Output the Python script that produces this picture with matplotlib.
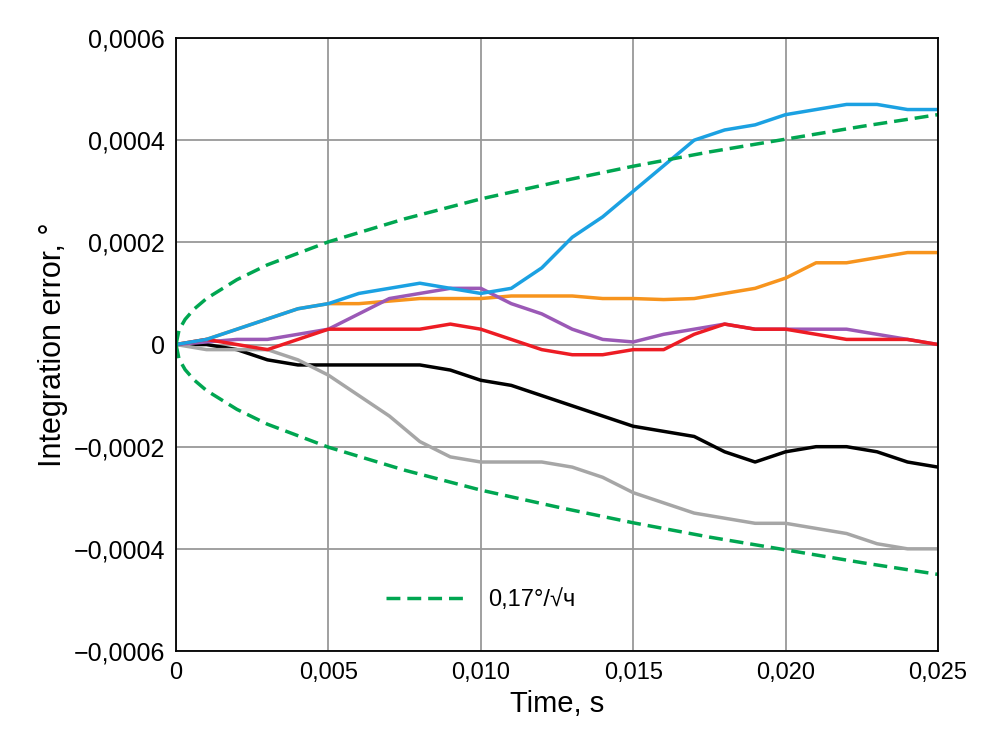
import matplotlib.pyplot as plt
from matplotlib.ticker import FuncFormatter

plt.rcParams["font.family"] = "Liberation Sans"

t = [i * 0.001 for i in range(26)]
blue = [0, 0.00001, 0.00003, 0.00005, 0.00007, 0.00008, 0.0001, 0.00011, 0.00012, 0.00011,
        0.0001, 0.00011, 0.00015, 0.00021, 0.00025, 0.0003, 0.00035, 0.0004, 0.00042, 0.00043,
        0.00045, 0.00046, 0.00047, 0.00047, 0.00046, 0.00046]
orange = [0, 0.00001, 0.00003, 0.00005, 0.00007, 0.00008, 0.00008, 0.000085, 0.00009, 0.00009,
          0.00009, 0.000095, 0.000095, 0.000095, 0.00009, 0.00009, 0.000088, 0.00009, 0.0001,
          0.00011, 0.00013, 0.00016, 0.00016, 0.00017, 0.00018, 0.00018]
purple = [0, 0.000005, 0.00001, 0.00001, 0.00002, 0.00003, 0.00006, 0.00009, 0.0001, 0.00011,
          0.00011, 0.00008, 0.00006, 0.00003, 0.00001, 0.000005, 0.00002, 0.00003, 0.00004,
          0.00003, 0.00003, 0.00003, 0.00003, 0.00002, 0.00001, 0]
red = [0, 0.00001, 0, -0.00001, 0.00001, 0.00003, 0.00003, 0.00003, 0.00003, 0.00004, 0.00003,
       0.00001, -0.00001, -0.00002, -0.00002, -0.00001, -0.00001, 0.00002, 0.00004, 0.00003,
       0.00003, 0.00002, 0.00001, 0.00001, 0.00001, 0]
black = [0, 0, -0.00001, -0.00003, -0.00004, -0.00004, -0.00004, -0.00004, -0.00004, -0.00005,
         -0.00007, -0.00008, -0.0001, -0.00012, -0.00014, -0.00016, -0.00017, -0.00018,
         -0.00021, -0.00023, -0.00021, -0.0002, -0.0002, -0.00021, -0.00023, -0.00024]
gray = [0, -0.00001, -0.00001, -0.00001, -0.00003, -0.00006, -0.0001, -0.00014, -0.00019,
        -0.00022, -0.00023, -0.00023, -0.00023, -0.00024, -0.00026, -0.00029, -0.00031,
        -0.00033, -0.00034, -0.00035, -0.00035, -0.00036, -0.00037, -0.00039, -0.0004, -0.0004]

# bound curve 0,17°/√h
tb = [0, 0.0001, 0.0003, 0.0006, 0.001, 0.002, 0.003, 0.005, 0.0075, 0.01, 0.0125, 0.015,
      0.0175, 0.02, 0.0225, 0.025]
bound = [0, 0.0000285, 0.0000493, 0.0000697, 0.00009, 0.000127, 0.000156, 0.000201,
         0.000246, 0.000285, 0.000318, 0.000349, 0.000377, 0.000402, 0.000427, 0.00045]

fig = plt.figure(figsize=(10, 7.47), dpi=100)
ax = fig.add_axes([0.176, 0.1285, 0.762, 0.8206])

lw = 2.5
ax.plot(t, black, color="#000000", lw=lw)
ax.plot(t, gray, color="#a6a6a6", lw=lw)
ax.plot(t, orange, color="#f7941d", lw=lw)
ax.plot(t, purple, color="#9b59b6", lw=lw)
ax.plot(t, red, color="#ed1c24", lw=lw)
ax.plot(t, blue, color="#1ba1e2", lw=lw)
ax.plot(tb, bound, color="#00a651", lw=2.5, ls=(0, (4, 2)), label="0,17°/√ч")
ax.plot(tb, [-b for b in bound], color="#00a651", lw=2.5, ls=(0, (4, 2)))

ax.set_xlim(0, 0.025)
ax.set_ylim(-0.0006, 0.0006)
ax.set_xticks([0, 0.005, 0.01, 0.015, 0.02, 0.025])
ax.set_yticks([-0.0006, -0.0004, -0.0002, 0, 0.0002, 0.0004, 0.0006])
ax.xaxis.set_major_formatter(FuncFormatter(lambda v, p: "0" if abs(v) < 1e-12 else f"{v:.3f}".replace(".", ",")))
ax.yaxis.set_major_formatter(FuncFormatter(lambda v, p: "0" if abs(v) < 1e-12 else f"{v:.4f}".replace(".", ",").replace("-", "\u2212")))
ax.grid(color="#999999", lw=1.3)
for s in ax.spines.values():
    s.set_linewidth(1.3)
ax.tick_params(axis="x", labelsize=17, length=0, pad=8)
ax.tick_params(axis="y", labelsize=18, length=0, pad=8)
ax.set_xlabel("Time, s", fontsize=21, labelpad=4)
ax.set_ylabel("Integration error, °", fontsize=22)
ax.legend(loc="lower center", bbox_to_anchor=(0.4, 0.03), frameon=False, fontsize=17,
          handlelength=3.5)

fig.savefig("out.png")
